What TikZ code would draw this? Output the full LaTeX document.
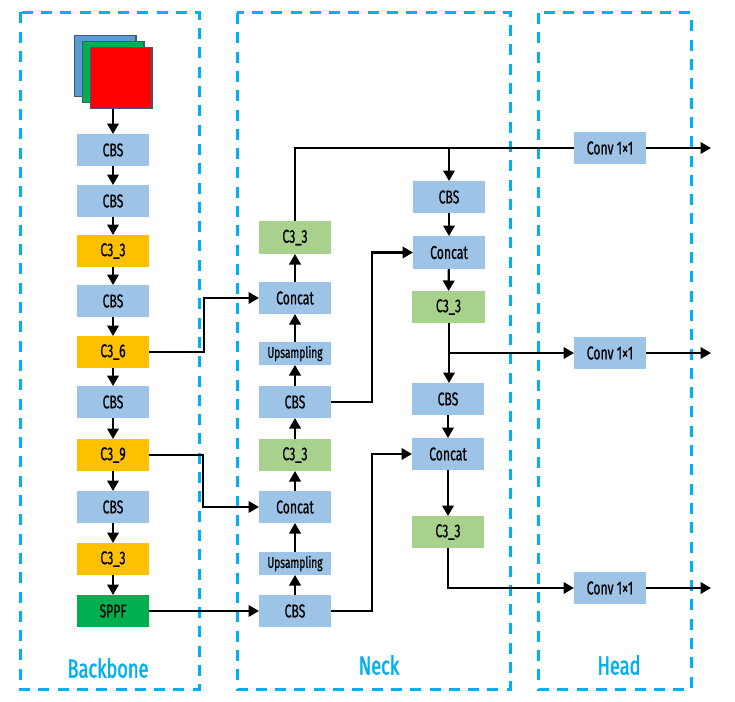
\documentclass[tikz,border=0pt]{standalone}
\usepackage{fontspec}
\setmainfont[FakeStretch=0.66,FakeBold=0.7]{Fira Sans}
\newfontfamily\lblfont[FakeStretch=0.7,FakeBold=1.6]{Fira Sans}
\usetikzlibrary{arrows.meta}
\definecolor{dashblue}{HTML}{00B0F0}
\definecolor{boxblue}{HTML}{9DC3E6}
\definecolor{boxgreen}{HTML}{A9D18E}
\definecolor{boxyellow}{HTML}{FFC000}
\definecolor{boxsppf}{HTML}{00B050}
\definecolor{imgedge}{HTML}{41597C}
\definecolor{imgblue}{HTML}{5B9BD5}
\tikzset{
 x=1pt,y=-1pt,
 frame/.style={draw=dashblue,line width=3pt,dash pattern=on 11pt off 8.3pt},
 flabel/.style={text=dashblue,font=\lblfont\fontsize{26}{26}\selectfont,inner sep=0pt,anchor=center},
 blk/.style={minimum width=72pt,inner sep=0pt,outer sep=0pt,font=\fontsize{18.5}{19}\selectfont,text=black,anchor=center},
 bluebox/.style={blk,fill=boxblue},
 greenbox/.style={blk,fill=boxgreen},
 yellowbox/.style={blk,fill=boxyellow},
 sppfbox/.style={blk,fill=boxsppf},
 layer/.style={draw=imgedge,line width=1.1pt,minimum width=61.5pt,minimum height=61pt,inner sep=0pt,outer sep=0pt},
 conn/.style={draw=black,line width=2.2pt,-{Triangle[length=10.5pt,width=11.5pt]}},
 plain/.style={draw=black,line width=2.2pt},
 small/.style={font=\fontsize{15.5}{16}\selectfont},
}
\begin{document}
\begin{tikzpicture}
\useasboundingbox (0,0) rectangle (735,701);
\draw[frame] (20,12.5) rectangle (199,689);
\draw[frame] (237,13) rectangle (510,689);
\draw[frame] (538.5,13) rectangle (691,689);
\node[flabel] (lbb) at (108,668) {Backbone};
\node[flabel] (lnk) at (379,665) {Neck};
\node[flabel] (lhd) at (619,665) {Head};
% input
\node[layer,fill=imgblue] (ia) at (105.2,66) {};
\node[layer,fill=boxsppf] (ib) at (113.2,72) {};
\node[layer,fill=red] (ic) at (121.2,78) {};
% backbone
\node[bluebox,minimum height=32pt] (b1) at (113,150) {CBS};
\node[bluebox,minimum height=32pt] (b2) at (113,201) {CBS};
\node[yellowbox,minimum height=32pt] (b3) at (113,251) {C3\_3};
\node[bluebox,minimum height=32pt] (b4) at (113,301) {CBS};
\node[yellowbox,minimum height=32pt] (b5) at (113,352) {C3\_6};
\node[bluebox,minimum height=32pt] (b6) at (113,402) {CBS};
\node[yellowbox,minimum height=32pt] (b7) at (113,455) {C3\_9};
\node[bluebox,minimum height=32pt] (b8) at (113,507) {CBS};
\node[yellowbox,minimum height=32pt] (b9) at (113,559) {C3\_3};
\node[sppfbox,minimum height=32pt] (b10) at (113,611) {SPPF};
% neck left
\node[bluebox,minimum height=32pt] (n1) at (295,611) {CBS};
\node[bluebox,small,minimum height=23pt] (n2) at (295,563.5) {Upsampling};
\node[bluebox,minimum height=32pt] (n3) at (295,507) {Concat};
\node[greenbox,minimum height=32pt] (n4) at (295,455) {C3\_3};
\node[bluebox,minimum height=32pt] (n5) at (295,402) {CBS};
\node[bluebox,small,minimum height=23pt] (n6) at (295,353.5) {Upsampling};
\node[bluebox,minimum height=32pt] (n7) at (295,298) {Concat};
\node[greenbox,minimum height=33pt] (n8) at (295,237.5) {C3\_3};
% neck right
\node[bluebox,minimum height=32pt] (m1) at (449,197) {CBS};
\node[bluebox,minimum height=33pt] (m2) at (449,252.5) {Concat};
\node[greenbox,minimum height=32pt,minimum width=73pt] (m3) at (448.5,307) {C3\_3};
\node[bluebox,minimum height=32pt] (m4) at (448,399) {CBS};
\node[bluebox,minimum height=32pt] (m5) at (448,454) {Concat};
\node[greenbox,minimum height=32pt] (m6) at (448,532) {C3\_3};
% head
\node[bluebox,minimum height=32pt] (h1) at (610,148) {Conv 1×1};
\node[bluebox,minimum height=32pt] (h2) at (610,353) {Conv 1×1};
\node[bluebox,minimum height=32pt] (h3) at (610,588) {Conv 1×1};
\coordinate (o1) at (711,148);
\coordinate (o2) at (711,353);
\coordinate (o3) at (711,588);
% backbone flow
\draw[conn] (b1|-ic.south) -- (b1);
\draw[conn] (b1) -- (b2);
\draw[conn] (b2) -- (b3);
\draw[conn] (b3) -- (b4);
\draw[conn] (b4) -- (b5);
\draw[conn] (b5) -- (b6);
\draw[conn] (b6) -- (b7);
\draw[conn] (b7) -- (b8);
\draw[conn] (b8) -- (b9);
\draw[conn] (b9) -- (b10);
\draw[conn] (b10) -- (n1);
% neck left flow
\draw[conn] (n1) -- (n2);
\draw[conn] (n2) -- (n3);
\draw[conn] (n3) -- (n4);
\draw[conn] (n4) -- (n5);
\draw[conn] (n5) -- (n6);
\draw[conn] (n6) -- (n7);
\draw[conn] (n7) -- (n8);
\draw[conn] (b5.east) -- (204,352) -- (204,298) -- (n7.west);
\draw[conn] (b7.east) -- (203,455) -- (203,507) -- (n3.west);
\draw[conn] (n5.east) -- (372,402) -- (372,252.5) -- (m2.west);
\draw[conn] (n1.east) -- (372,611) -- (372,454) -- (m5.west);
% top
\draw[plain] (n8.north) -- (295,148) -- (h1.west);
\draw[conn] (449,148) -- (m1.north);
\draw[conn] (m1) -- (m2);
\draw[conn] (m2) -- (m3);
\draw[conn] (449,323) -- (449,383);
\draw[conn] (449,353) -- (h2.west);
\draw[conn] (m4) -- (m5);
\draw[conn] (m5) -- (m6);
\draw[conn] (m6.south) -- (448,588) -- (h3.west);
\draw[conn] (h1.east) -- (o1);
\draw[conn] (h2.east) -- (o2);
\draw[conn] (h3.east) -- (o3);
\end{tikzpicture}
\end{document}
